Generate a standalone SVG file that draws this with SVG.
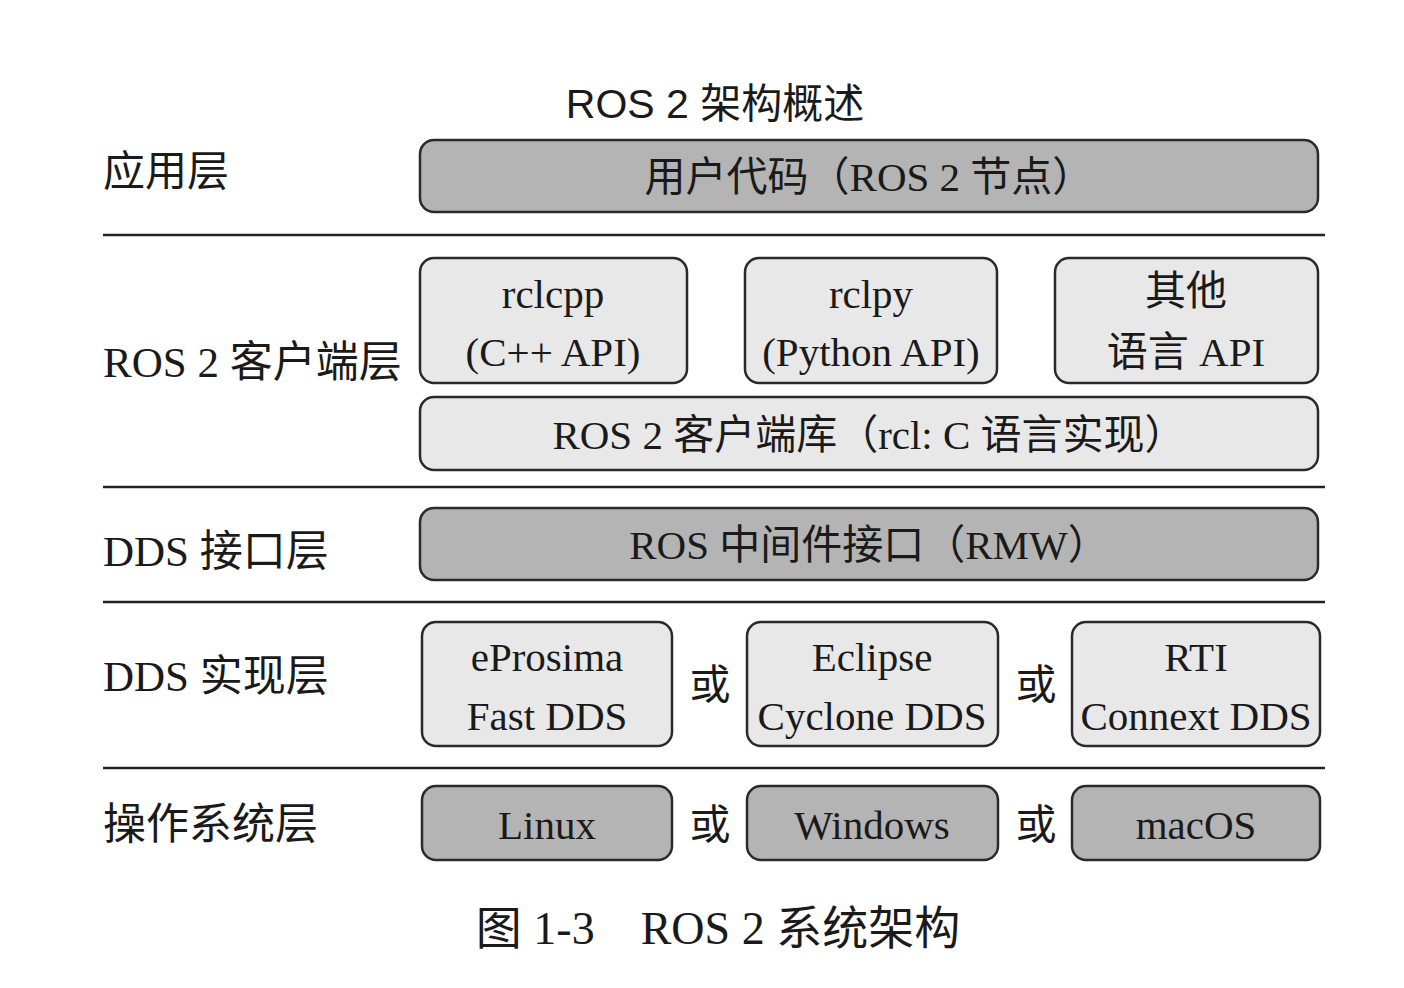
<svg xmlns="http://www.w3.org/2000/svg" width="1404" height="988" viewBox="0 0 1404 988">
<style>
.s{font-family:"Liberation Serif","Noto Sans CJK SC",serif;font-size:41px;fill:#1a1a1a}
.c{text-anchor:middle}
.d{fill:#b4b4b4;stroke:#2a2a2a;stroke-width:2.5}
.l{fill:#e8e8e8;stroke:#2a2a2a;stroke-width:2.5}
.h{stroke:#222;stroke-width:2.5}
</style>
<rect width="1404" height="988" fill="#fff"/>
<text x="715" y="118" class="c" style="font-family:'Liberation Sans','Noto Sans CJK SC',sans-serif;font-size:41px;fill:#1a1a1a">ROS 2 架构概述</text>
<g id="labels">
<text x="103" y="186" class="s" style="font-size:42px">应用层</text>
<text x="103" y="377" class="s" style="font-size:43px">ROS 2 客户端层</text>
<text x="103" y="566" class="s" style="font-size:43px">DDS 接口层</text>
<text x="103" y="691" class="s" style="font-size:43px">DDS 实现层</text>
<text x="103" y="839" class="s" style="font-size:43px">操作系统层</text>
</g>
<g id="connectors">
<line class="h" x1="103" y1="235" x2="1325" y2="235"/>
<line class="h" x1="103" y1="487" x2="1325" y2="487"/>
<line class="h" x1="103" y1="602" x2="1325" y2="602"/>
<line class="h" x1="103" y1="768" x2="1325" y2="768"/>
</g>
<g id="app"><rect class="d" x="420" y="140" width="898" height="72" rx="14"/><text x="869" y="191" class="s c">用户代码（ROS 2 节点）</text></g>
<g id="rclcpp"><rect class="l" x="420" y="258" width="267" height="125" rx="14"/><text x="553" y="308" class="s c">rclcpp</text><text x="553" y="366" class="s c">(C++ API)</text></g>
<g id="rclpy"><rect class="l" x="745" y="258" width="252" height="125" rx="14"/><text x="871" y="308" class="s c">rclpy</text><text x="871" y="366" class="s c">(Python API)</text></g>
<g id="other"><rect class="l" x="1055" y="258" width="263" height="125" rx="14"/><text x="1186" y="305" class="s c">其他</text><text x="1186" y="366" class="s c">语言 API</text></g>
<g id="rcl"><rect class="l" x="420" y="397" width="898" height="73" rx="14"/><text x="869" y="449" class="s c">ROS 2 客户端库（rcl: C 语言实现）</text></g>
<g id="rmw"><rect class="d" x="420" y="508" width="898" height="72" rx="14"/><text x="869" y="559" class="s c">ROS 中间件接口（RMW）</text></g>
<g id="fastdds"><rect class="l" x="422" y="622" width="250" height="124" rx="14"/><text x="547" y="671" class="s c">eProsima</text><text x="547" y="730" class="s c">Fast DDS</text></g>
<g id="cyclone"><rect class="l" x="747" y="622" width="251" height="124" rx="14"/><text x="872" y="671" class="s c">Eclipse</text><text x="872" y="730" class="s c">Cyclone DDS</text></g>
<g id="rti"><rect class="l" x="1072" y="622" width="248" height="124" rx="14"/><text x="1196" y="671" class="s c">RTI</text><text x="1196" y="730" class="s c">Connext DDS</text></g>
<text x="710" y="699" class="s c">或</text><text x="1036" y="699" class="s c">或</text>
<g id="linux"><rect class="d" x="422" y="786" width="250" height="74" rx="14"/><text x="547" y="839" class="s c">Linux</text></g>
<g id="windows"><rect class="d" x="747" y="786" width="251" height="74" rx="14"/><text x="872" y="839" class="s c">Windows</text></g>
<g id="macos"><rect class="d" x="1072" y="786" width="248" height="74" rx="14"/><text x="1196" y="839" class="s c">macOS</text></g>
<text x="710" y="839" class="s c">或</text><text x="1036" y="839" class="s c">或</text>
<text x="718" y="944" class="s c" style="font-size:46px">图 1-3　ROS 2 系统架构</text>
</svg>
